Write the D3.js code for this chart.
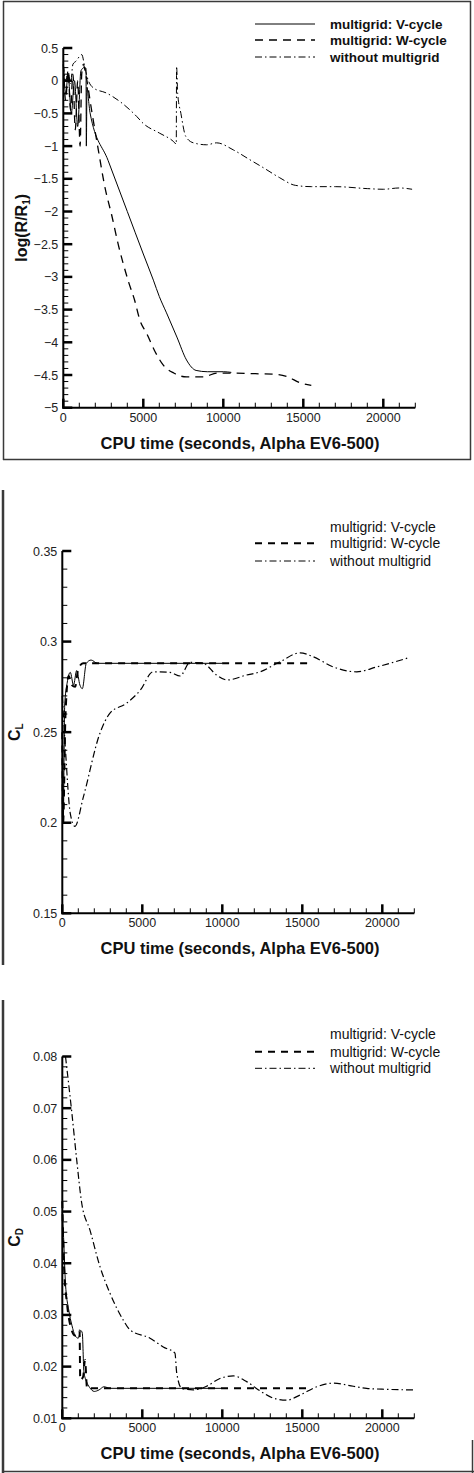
<!DOCTYPE html>
<html><head><meta charset="utf-8">
<script src="https://cdn.jsdelivr.net/npm/d3@7"></script>
<style>
html,body{margin:0;padding:0;background:#fff;}
svg{display:block;font-family:"Liberation Sans",Arial,Helvetica,sans-serif;}
</style></head>
<body><svg id="c" width="474" height="1473"></svg>
<script>
// ---------- data ----------
const xTickValues = [0, 5000, 10000, 15000, 20000];
const legendLabels = ["multigrid: V-cycle", "multigrid: W-cycle", "without multigrid"];
const xTitle = "CPU time (seconds, Alpha EV6-500)";

// Panel 1: log(R/R1)
const p1YTicks = [0.5, 0, -0.5, -1, -1.5, -2, -2.5, -3, -3.5, -4, -4.5, -5];
const p1V = [[0,0.3],[150,-0.2],[300,0.1],[500,-0.5],[700,0.0],[900,-0.7],[1100,0.15],[1300,0.2],[1420,0.19],[1440,-1.0],[1480,-0.1],[1600,-0.35],[1670,-0.49],[2800,-1.22],[4000,-2.0],[5000,-2.65],[5630,-3.05],[6000,-3.3],[6450,-3.55],[7100,-3.92],[7700,-4.27],[8300,-4.43],[9000,-4.45],[10000,-4.45],[10500,-4.46]];
const p1W = [[0,0.25],[150,-0.3],[300,0.15],[450,-0.45],[600,0.1],[750,-0.75],[900,0.0],[1050,-1.0],[1150,0.1],[1250,0.25],[1400,0.1],[1800,-0.5],[2190,-1.06],[2610,-1.64],[3020,-2.05],[3440,-2.51],[4070,-3.07],[4450,-3.35],[4800,-3.67],[5200,-3.86],[5730,-4.14],[6250,-4.35],[6900,-4.47],[7700,-4.53],[8750,-4.53],[9600,-4.47],[10600,-4.47],[12000,-4.48],[13300,-4.49],[13950,-4.52],[14800,-4.62],[15500,-4.66]];
const p1N = [[0,0.25],[150,0.0],[300,0.15],[450,-0.05],[600,0.25],[800,0.3],[1150,0.4],[1350,0.2],[1500,0.05],[1880,-0.11],[2710,-0.19],[3600,-0.33],[4600,-0.55],[4980,-0.65],[6000,-0.8],[6890,-0.93],[7060,-0.97],[7080,0.22],[7150,-0.2],[7350,-0.5],[7650,-0.85],[8130,-0.95],[8960,-0.98],[9580,-0.95],[10640,-1.06],[11670,-1.21],[12500,-1.33],[13500,-1.48],[14500,-1.6],[15500,-1.62],[17000,-1.62],[19000,-1.65],[20000,-1.66],[21000,-1.64],[21800,-1.66]];

// Panel 2: C_L
const p2YTicks = [0.15, 0.2, 0.25, 0.3, 0.35];
const p2V = [[0,0.27],[60,0.2],[150,0.265],[300,0.277],[500,0.283],[700,0.276],[900,0.284],[1100,0.276],[1250,0.274],[1500,0.288],[1800,0.2898],[2200,0.288],[10000,0.288]];
const p2W = [[0,0.25],[50,0.2],[200,0.26],[400,0.281],[600,0.276],[800,0.275],[1000,0.285],[1300,0.288],[15600,0.288]];
const p2N = [[0,0.27],[200,0.24],[500,0.205],[790,0.198],[1310,0.214],[2360,0.2496],[2980,0.2605],[4020,0.266],[4860,0.273],[5680,0.2833],[6730,0.283],[7360,0.281],[7980,0.2885],[8800,0.288],[9650,0.2815],[10300,0.2788],[11500,0.2815],[12360,0.2833],[13600,0.2888],[14860,0.2938],[15690,0.2916],[16940,0.286],[18400,0.2833],[19650,0.286],[21730,0.2913]];

// Panel 3: C_D
const p3YTicks = [0.01, 0.02, 0.03, 0.04, 0.05, 0.06, 0.07, 0.08];
const p3V = [[0,0.05],[80,0.045],[200,0.036],[400,0.031],[600,0.028],[800,0.026],[1000,0.0255],[1150,0.027],[1250,0.0265],[1350,0.019],[1500,0.0172],[1700,0.016],[2000,0.0152],[2300,0.0155],[2600,0.0161],[3000,0.0158],[10000,0.0158]];
const p3W = [[0,0.052],[100,0.04],[300,0.032],[500,0.028],[800,0.026],[1000,0.0265],[1080,0.027],[1120,0.0174],[1300,0.018],[1420,0.0213],[1550,0.0158],[15600,0.0158]];
const p3N = [[200,0.08],[600,0.069],[900,0.06],[1210,0.0517],[1730,0.0464],[2360,0.0393],[2980,0.0342],[3810,0.029],[4230,0.0271],[5480,0.0255],[6310,0.0238],[7040,0.0226],[7150,0.0188],[7460,0.0158],[8190,0.0155],[9020,0.0162],[9850,0.0177],[10690,0.0182],[11520,0.0171],[12360,0.0153],[13190,0.0139],[14020,0.0135],[14860,0.0145],[15900,0.0161],[16940,0.0168],[18190,0.0162],[19020,0.0158],[20270,0.0156],[21940,0.0155]];

// ---------- drawing ----------
const svg = d3.select("#c");
svg.append("rect").attr("width",474).attr("height",1473).attr("fill","#fff");

function panel(cfg){
  const g = svg.append("g");
  const x = d3.scaleLinear().domain([0,22000]).range([cfg.x0, cfg.x0+352]);
  const y = d3.scaleLinear().domain(cfg.yDom).range(cfg.yRange);
  const yb = cfg.yRange[0];
  cfg.frame.forEach(f=>g.append("line").attr("x1",f[0]).attr("y1",f[1]).attr("x2",f[2]).attr("y2",f[3])
      .attr("stroke","#3a3a3a").attr("stroke-width",f[4]||1.5));
  const line = d3.line().x(d=>x(d[0])).y(d=>y(d[1])).curve(d3.curveMonotoneX);
  cfg.series.forEach(s=>{
    g.append("path").attr("d",line(s.data)).attr("fill","none").attr("stroke",s.color||"#000")
      .attr("stroke-width",s.w).attr("stroke-dasharray",s.dash||null);
  });
  // x axis
  const xAx = d3.axisBottom(x).tickValues(d3.range(0,22001,1000)).tickSize(0).tickFormat("");
  g.append("g").attr("transform",`translate(0,${yb})`).call(xAx).call(a=>a.select(".domain").remove());
  g.append("line").attr("x1",x(0)-1).attr("x2",x(22000)).attr("y1",yb).attr("y2",yb).attr("stroke","#000").attr("stroke-width",2);
  d3.range(0,22001,1000).forEach(t=>{
    const major = t%5000===0;
    g.append("line").attr("x1",x(t)).attr("x2",x(t)).attr("y1",yb).attr("y2",yb-(major?9:5))
      .attr("stroke","#000").attr("stroke-width",major?2.5:1);
  });
  xTickValues.forEach(t=>{
    g.append("text").attr("x",x(t)).attr("y",yb+14).attr("text-anchor","middle")
      .attr("font-size",12.5).attr("fill","#222").text(d3.format("d")(t));
  });
  // y axis
  g.append("line").attr("x1",cfg.x0).attr("x2",cfg.x0).attr("y1",yb+1).attr("y2",y(cfg.yDom[1])).attr("stroke","#000").attr("stroke-width",2);
  const mn = d3.range(0, Math.round((cfg.yDom[1]-cfg.yDom[0])/cfg.minor)+1).map(i=>cfg.yDom[0]+i*cfg.minor);
  mn.forEach(v=>g.append("line").attr("x1",cfg.x0).attr("x2",cfg.x0+5).attr("y1",y(v)).attr("y2",y(v)).attr("stroke","#000").attr("stroke-width",1));
  cfg.yTicks.forEach(v=>{
    g.append("line").attr("x1",cfg.x0).attr("x2",cfg.x0+9).attr("y1",y(v)).attr("y2",y(v)).attr("stroke","#000").attr("stroke-width",2.5);
    g.append("text").attr("x",cfg.x0-5).attr("y",y(v)+4.5).attr("text-anchor","end")
      .attr("font-size",12.5).attr("fill","#222").text(cfg.fmt(v));
  });
  // titles
  g.append("text").attr("x",240).attr("y",yb+41).attr("text-anchor","middle")
    .attr("font-size",16.5).attr("font-weight","bold").attr("fill","#111").text(xTitle);
  const yt = g.append("text").attr("transform",`translate(${cfg.yTitleX},${(yb+y(cfg.yDom[1]))/2}) rotate(-90)`)
    .attr("text-anchor","middle").attr("font-size",16).attr("font-weight","bold").attr("fill","#111");
  yt.append("tspan").text(cfg.yTitle[0]);
  yt.append("tspan").attr("font-size",10).attr("dy",3).text(cfg.yTitle[1]);
  if(cfg.yTitle[2]) yt.append("tspan").attr("dy",-3).text(cfg.yTitle[2]);
  // legend
  cfg.series.forEach((s,i)=>{
    const ly = cfg.legY[i];
    if(s.legendLine!==false)
      g.append("line").attr("x1",255).attr("x2",315).attr("y1",ly).attr("y2",ly).attr("stroke","#000")
        .attr("stroke-width",s.lw||s.w).attr("stroke-dasharray",s.ldash||s.dash||null);
    g.append("text").attr("x",330).attr("y",ly+5).attr("font-size",cfg.legBold?13.5:14).attr("font-weight",cfg.legBold?"bold":"normal")
      .attr("fill","#111").text(legendLabels[i]);
  });
}

const dashdot = "7,3,1.5,3";
panel({
  x0:63.3, yDom:[-5,0.5], yRange:[407.7,48], yTicks:p1YTicks, minor:0.1,
  fmt:v=>v===0?"0":d3.format("")(v), yTitleX:27, yTitle:["log(R/R","1",")"],
  legY:[24,40,57], legBold:true,
  frame:[[3.5,1,3.5,460],[3,1.5,471,1.5],[470.5,1,470.5,460],[3,459.5,471,459.5]],
  series:[
    {data:p1V, w:1},
    {data:p1W, w:1.3, dash:"8,6"},
    {data:p1N, w:1, dash:dashdot}
  ]
});
panel({
  x0:62.3, yDom:[0.15,0.35], yRange:[913.3,551], yTicks:p2YTicks, minor:0.01,
  fmt:v=>d3.format("")(+v.toFixed(2)), yTitleX:20, yTitle:["C","L"],
  legY:[526.7,543.3,561], legBold:false,
  frame:[[3,490,3,965,2.5]],
  series:[
    {data:p2V, w:1, legendLine:false},
    {data:p2W, w:2, dash:"7,6"},
    {data:p2N, w:1.2, dash:dashdot, lw:1}
  ]
});
panel({
  x0:62.3, yDom:[0.01,0.08], yRange:[1418.3,1056.5], yTicks:p3YTicks, minor:0.002,
  fmt:v=>d3.format(".2f")(v), yTitleX:20, yTitle:["C","D"],
  legY:[1034,1051.7,1068.3], legBold:false,
  frame:[[3,1000,3,1473,2.5],[3,1471.5,474,1471.5],[472.5,1440,472.5,1473]],
  series:[
    {data:p3V, w:1, legendLine:false},
    {data:p3W, w:2, dash:"7,6"},
    {data:p3N, w:1.2, dash:dashdot, lw:1}
  ]
});
</script></body></html>
